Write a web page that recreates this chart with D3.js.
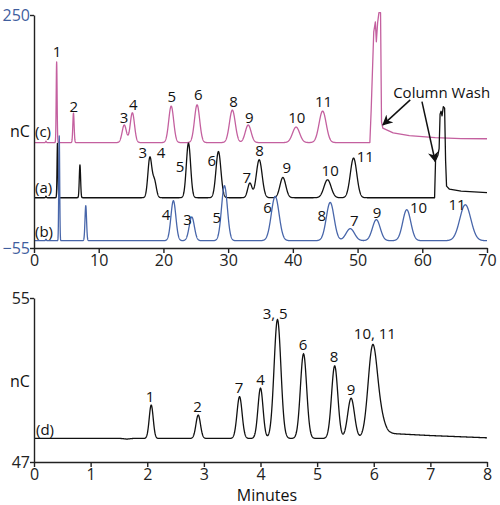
<!DOCTYPE html>
<html><head><meta charset="utf-8">
<script src="https://cdn.jsdelivr.net/npm/d3@7"></script>
<style>body{margin:0;background:#fff} text{font-family:"Open Sans",sans-serif}</style>
</head><body><svg id="chart" width="500" height="505"></svg>
<script>
// ---------- DATA ----------
const xTicksTop = [0,10,20,30,40,50,60,70];
const yTicksTop = [-55,250];
const xTicksBottom = [0,1,2,3,4,5,6,7,8];
const yTicksBottom = [47,55];

const traceNames = ["(c)","(a)","(b)"];
// baselines (nC)
const baseC = 83, baseA = 10.8, baseB = -45.4;
// peaks: [label, time(min), height(nC), sigma(min)]
const peaksC = [["",1.85,2,0.06],["1",3.5,105.6,0.07],["2",6.1,38.6,0.1],["3",13.95,23,0.33],["4",15.2,39,0.33],["5",21.2,47.7,0.38],["6",25.2,49.4,0.4],["8",30.65,42.5,0.45],["9",33.1,23,0.45],["10",40.5,20.3,0.55],["11",44.6,41.2,0.55]];
const peaksA = [["",1.85,2,0.06],["1",3.63,72,0.07],["2",7.1,43,0.1],["3",17.9,52,0.3],["4",18.6,22,0.3],["5",23.87,71.5,0.33],["6",28.5,60.5,0.38],["7",33.35,19,0.33],["8",34.8,49.7,0.45],["9",38.46,26.5,0.45],["10",45.36,23.5,0.55],["11",49.38,51.9,0.5]];
const peaksB = [["",1.85,2,0.06],["1",3.9,137,0.07],["2",8.0,45.8,0.12],["4",21.54,52.3,0.38],["3",24.38,31,0.4],["5",29.43,71.9,0.45],["6",37.27,57.9,0.6],["8",45.77,50,0.6],["7",48.87,15.7,0.65],["9",52.9,27.5,0.6],["10",57.6,40.5,0.62],["11",66.65,47,0.85]];
// column-wash segments: [time, nC]
const washC = [[51.9,83],[52.1,125],[52.5,228],[52.75,241],[52.9,215],[53.1,240],[53.3,253],[53.55,253],[53.7,110],[53.9,102],[55.5,95.7],[58,92],[62,89.5],[66,88.3],[70,88]];
const washA = [[61.9,10.8],[62.05,60],[62.4,66],[62.6,75],[62.75,120],[62.9,124],[63.05,118],[63.25,130],[63.45,128],[63.6,60],[63.75,26],[64.2,22],[66,19.5],[70,17.5]];
// peak labels: [text, time, nC]
const labelsC = [["1",3.56,195],["2",6.14,123.6],["3",13.92,109.2],["4",15.36,125.8],["5",21.29,136.7],["6",25.4,138.9],["8",30.82,129.3],["9",33.25,108.4],["10",40.62,109.2],["11",44.74,129.3]];
const labelsA = [["3",16.81,62.7],["4",19.64,62.7],["5",22.58,45.1],["6",27.48,51.7],["7",32.89,30],["8",34.84,64.8],["9",39.08,43.1],["10",45.77,38.6],["11",51.19,57.4]];
const labelsB = [["4",20.41,-18.9],["3",23.71,-24.5],["5",28.25,-22.3],["6",36.08,-9.2],["8",44.49,-20.2],["7",49.48,-26.7],["9",53.0,-15.8],["10",59.43,-9.2],["11",65.37,-4.9]];

// bottom chromatogram (d)
const baseD = 48.15;
const peaksD = [["",1.64,-0.03,0.05],["1",2.07,1.63,0.035],["2",2.9,1.14,0.04],["7",3.63,2.04,0.045],["4",4.0,2.45,0.045],["3, 5",4.3,5.8,0.06],["6",4.76,4.13,0.055],["8",5.31,3.54,0.055],["9",5.6,1.96,0.06],["10, 11",5.98,4.4,0.08],["",6.12,0.8,0.08]];
const driftD = [[0,0],[6.0,0],[6.3,0.24],[7,0.14],[8,0.03]];
const labelsD = [["1",2.05,49.94],["2",2.89,49.45],["7",3.62,50.38],["4",4.0,50.76],["3, 5",4.26,53.97],["6",4.75,52.47],["8",5.3,51.9],["9",5.6,50.27],["10, 11",6.02,53.01]];

// ---------- DRAW ----------
const svg = d3.select("#chart");
const colC = "#c4609f", colA = "#111111", colB = "#4866aa", colAxisBlue = "#3f5e9e";

const xTop = d3.scaleLinear().domain([0,70]).range([34,487]);
const yTop = d3.scaleLinear().domain([-55,250]).range([248,15]);
const xBot = d3.scaleLinear().domain([0,8]).range([34,487]);
const yBot = d3.scaleLinear().domain([47,55]).range([462,298]);

function sumPeaks(t, base, peaks){
  let v = base;
  for (const p of peaks) v += p[2]*Math.exp(-0.5*Math.pow((t-p[1])/p[3],2));
  return v;
}
function buildTrace(base, peaks, tEnd, wash, step){
  const pts = [];
  for (let t=0; t<=tEnd+1e-9; t+=step) pts.push([t, sumPeaks(t, base, peaks)]);
  if (wash) wash.forEach(w=>pts.push(w));
  return pts;
}
const lineTop = d3.line().x(d=>xTop(d[0])).y(d=>yTop(d[1]));
const lineBot = d3.line().x(d=>xBot(d[0])).y(d=>yBot(d[1]));

const traceC = buildTrace(baseC, peaksC, 51.88, washC, 0.02);
const traceA = buildTrace(baseA, peaksA, 61.88, washA, 0.02);
const traceB = buildTrace(baseB, peaksB, 70, null, 0.02);

[[traceC,colC],[traceA,colA],[traceB,colB]].forEach(([d,c])=>{
  svg.append("path").datum(d).attr("d",lineTop).attr("fill","none").attr("stroke",c).attr("stroke-width",1.3).attr("stroke-linejoin","round");
});

// axes top
const axTopX = svg.append("g").attr("transform","translate(0,248)")
  .call(d3.axisBottom(xTop).tickValues(xTicksTop).tickSize(5).tickSizeOuter(0).tickPadding(2));
const axTopY = svg.append("g").attr("transform","translate(34,0)")
  .call(d3.axisLeft(yTop).tickValues(yTicksTop).tickSize(4).tickSizeOuter(0).tickPadding(0).tickFormat(d3.format("d")));
axTopY.selectAll("text").attr("fill",colAxisBlue);

// bottom trace
const interpDrift = t => {
  for (let i=1;i<driftD.length;i++){
    if (t<=driftD[i][0]){const a=driftD[i-1],b=driftD[i];return a[1]+(b[1]-a[1])*(t-a[0])/(b[0]-a[0]);}
  }
  return driftD[driftD.length-1][1];
};
const traceD = [];
for (let t=0;t<=8+1e-9;t+=0.004) traceD.push([t, sumPeaks(t, baseD, peaksD)+interpDrift(t)]);
svg.append("path").datum(traceD).attr("d",lineBot).attr("fill","none").attr("stroke",colA).attr("stroke-width",1.3);

const axBotX = svg.append("g").attr("transform","translate(0,462)")
  .call(d3.axisBottom(xBot).tickValues(xTicksBottom).tickSize(5).tickSizeOuter(0).tickPadding(2));
const axBotY = svg.append("g").attr("transform","translate(34,0)")
  .call(d3.axisLeft(yBot).tickValues(yTicksBottom).tickSize(4).tickSizeOuter(0).tickPadding(0));

svg.selectAll(".domain, .tick line").attr("stroke","#222").attr("stroke-width",1.4);
svg.selectAll(".tick text").attr("font-size",16).attr("font-family","'Open Sans',sans-serif");
axTopX.selectAll(".tick text").attr("fill","#222");
axBotX.selectAll(".tick text").attr("fill","#222");
axBotY.selectAll(".tick text").attr("fill","#222");

// peak labels
function addLabels(labels, xs, ys){
  svg.append("g").selectAll("text").data(labels).join("text")
    .attr("x",d=>xs(d[1])).attr("y",d=>ys(d[2]))
    .attr("text-anchor","middle").attr("font-size",15).attr("fill","#111").text(d=>d[0]);
}
addLabels(labelsC, xTop, yTop);
addLabels(labelsA, xTop, yTop);
addLabels(labelsB, xTop, yTop);
addLabels(labelsD, xBot, yBot);

// trace names & axis titles
const nameY = [137.3,193.3,236.7];
traceNames.forEach((n,i)=>svg.append("text").attr("x",35).attr("y",nameY[i]).attr("font-size",15).attr("fill","#111").text(n));
svg.append("text").attr("x",10).attr("y",137).attr("font-size",16).attr("fill","#111").text("nC");
svg.append("text").attr("x",10).attr("y",387).attr("font-size",16).attr("fill","#111").text("nC");
svg.append("text").attr("x",36).attr("y",435).attr("font-size",15).attr("fill","#111").text("(d)");
svg.append("text").attr("x",267).attr("y",501).attr("text-anchor","middle").attr("font-size",16).attr("fill","#111").text("Minutes");

// column wash annotation
svg.append("defs").append("marker").attr("id","arr").attr("viewBox","0 0 10 10").attr("refX",9).attr("refY",5)
  .attr("markerWidth",7).attr("markerHeight",7).attr("orient","auto")
  .append("path").attr("d","M0,0 L10,5 L0,10 L3,5 Z").attr("fill","#111");
svg.append("text").attr("x",xTop(55.5)).attr("y",yTop(141.5)).attr("font-size",15).attr("fill","#111").text("Column Wash");
const arrows = [[[58.14,138.9],[53.92,106.2]],[[59.95,136.7],[62.0,58.2]]];
arrows.forEach(a=>svg.append("line").attr("x1",xTop(a[0][0])).attr("y1",yTop(a[0][1])).attr("x2",xTop(a[1][0])).attr("y2",yTop(a[1][1]))
  .attr("stroke","#111").attr("stroke-width",1.5).attr("marker-end","url(#arr)"));
</script></body></html>
